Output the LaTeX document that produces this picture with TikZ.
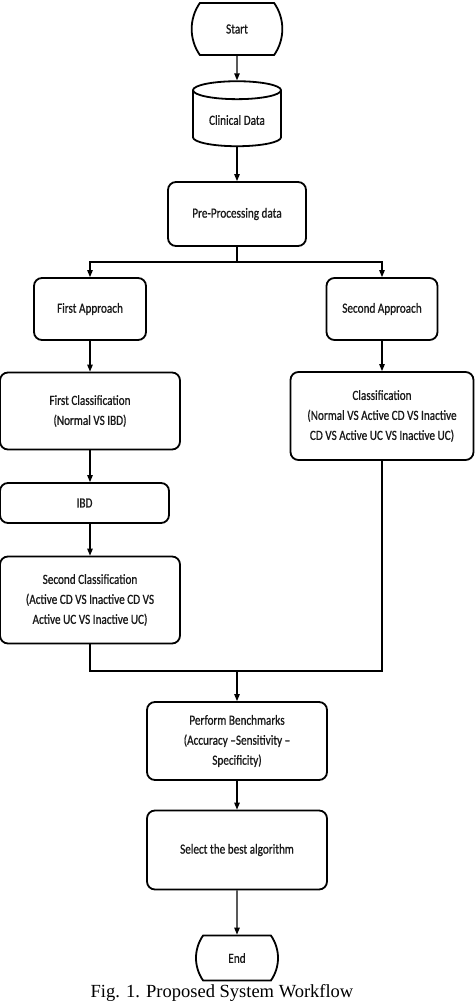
\documentclass[tikz,border=0pt]{standalone}
\usepackage{fontspec}
\setmainfont{Liberation Serif}
\newfontfamily\boxfont{Carlito}[FakeStretch=0.8, FakeBold=0.8]
\usetikzlibrary{shapes,arrows.meta,positioning}

\begin{document}
\begin{tikzpicture}[
            x=1pt, y=1pt,
            node distance=95pt,
            base/.style={draw, line width=1.8pt, align=center, text=black!90, font=\boxfont\fontsize{14}{20}\selectfont, inner sep=2pt},
            box/.style={base, rectangle, rounded corners=8pt},
            term/.style={base, rounded rectangle, rounded rectangle arc length=70},
            store/.style={base, cylinder, shape border rotate=90, aspect=0.3},
            arrow/.style={-{Triangle[width=5.5pt, length=7pt]}, line width=1.1pt},
            line/.style={line width=1.1pt}
        ]
            \useasboundingbox (0,0) rectangle (474,-1004);

            \node[term, minimum width=87pt, minimum height=52pt] at (237,-29) (start) {Start};
            \node[store, node distance=91pt, below of=start, minimum width=88pt, minimum height=65pt] (clinical) {Clinical Data};
            \node[box, node distance=94pt, below of=clinical, minimum width=138pt, minimum height=64pt] (pre) {Pre-Processing data};
            \coordinate[node distance=48pt, below of=pre] (split);

            % Left branch
            \node[box, below of=pre, xshift=-147pt, minimum width=112pt, minimum height=62pt] (first) {First Approach};
            \node[box, node distance=102pt, below of=first, minimum width=180pt, minimum height=77pt] (firstcls) {First Classification\\(Normal VS IBD)};
            \node[box, node distance=92pt, below of=firstcls, xshift=-5.5pt, minimum width=169pt, minimum height=40pt] (ibd) {IBD};
            \node[box, node distance=97pt, below of=ibd, xshift=5.5pt, minimum width=180pt, minimum height=87pt] (seccls) {Second Classification\\(Active CD VS Inactive CD VS\\Active UC VS Inactive UC)};

            % Right branch
            \node[box, below of=pre, xshift=145pt, minimum width=111pt, minimum height=62pt] (second) {Second Approach};
            \node[box, node distance=107pt, below of=second, minimum width=183pt, minimum height=88pt] (classif) {Classification\\(Normal VS Active CD VS Inactive\\CD VS Active UC VS Inactive UC)};

            \coordinate[node distance=409pt, below of=split] (merge);
            \node[box, node distance=70pt, below of=merge, minimum width=180pt, minimum height=78pt] (bench) {Perform Benchmarks\\(Accuracy –Sensitivity –\\Specificity)};
            \node[box, node distance=109pt, below of=bench, minimum width=180pt, minimum height=79pt] (select) {Select the best algorithm};
            \node[term, node distance=108pt, below of=select, minimum width=86pt, minimum height=45pt] (end) {End};
            \node[node distance=35pt, below of=end, xshift=-15pt, font=\fontsize{18.5}{22}\selectfont] (caption) {Fig. 1. Proposed System Workflow};

            \draw[arrow] (start) -- (clinical);
            \draw[arrow] (clinical) -- (pre);
            \draw[line] (pre) -- (split);
            \draw[arrow] (split) -| (first);
            \draw[arrow] (split) -| (second);
            \draw[arrow] (first) -- (firstcls);
            \draw[arrow] (firstcls.south) -- (firstcls.south |- ibd.north);
            \draw[arrow] (firstcls.south |- ibd.south) -- (seccls.north);
            \draw[arrow] (second) -- (classif);
            \draw[line] (seccls) |- (merge);
            \draw[line] (classif) |- (merge);
            \draw[arrow] (merge) -- (bench);
            \draw[arrow] (bench) -- (select);
            \draw[arrow] (select) -- (end);
        \end{tikzpicture}
\end{document}
